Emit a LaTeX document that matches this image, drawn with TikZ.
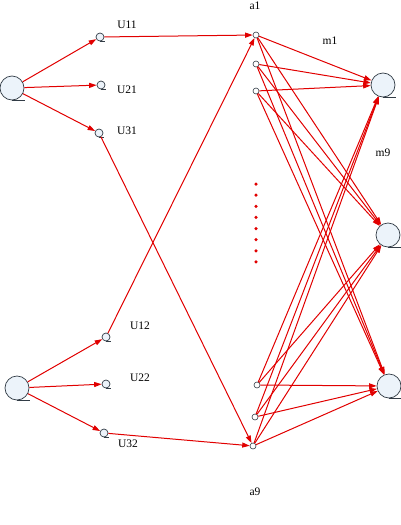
\documentclass[tikz,border=0pt]{standalone}
\usepackage{fontspec}
\setmainfont{Liberation Serif}
\usetikzlibrary{arrows.meta}
\definecolor{lnred}{RGB}{225,0,0}
\definecolor{cfill}{RGB}{236,243,250}
\definecolor{cline}{RGB}{50,60,70}
\begin{document}
\begin{tikzpicture}[x=1pt,y=-1pt,
  big/.style={circle,draw=cline,fill=cfill,line width=0.7pt,minimum size=24pt,inner sep=0pt},
  small/.style={circle,draw=cline,fill=cfill,line width=0.7pt,minimum size=8pt,inner sep=0pt},
  mid/.style={circle,draw=cline,fill=white,line width=0.6pt,minimum size=6pt,inner sep=0pt},
  lab/.style={font=\fontsize{11.5}{13}\selectfont,inner sep=0pt},
  conn/.style={draw=lnred,line width=1pt,-{Triangle[length=7.5pt,width=5pt]}},
  dotm/.style={circle,fill=lnred,minimum size=3.5pt,inner sep=0pt}]
\useasboundingbox (0,0) rectangle (400,525);
% left big circles
\node[big] (L1) at (12,88) {};
\node[big] (L2) at (17,388) {};
% U nodes
\node[small] (U11) at (100,37) {};
\node[small] (U21) at (101,85) {};
\node[small] (U31) at (99,133) {};
\node[small] (U12) at (106,337) {};
\node[small] (U22) at (106,384) {};
\node[small] (U32) at (104,433) {};
% middle nodes
\node[mid] (a1) at (256,35) {};
\node[mid] (a2) at (256,64) {};
\node[mid] (a3) at (256,91) {};
\node[mid] (b1) at (257,385) {};
\node[mid] (b2) at (255,417) {};
\node[mid] (b3) at (253,446) {};
% right big circles
\node[big] (R1) at (383,85) {};
\node[big] (R2) at (388,235) {};
\node[big] (R3) at (389,386) {};
% tails
\foreach \n in {L1,L2,R1,R2,R3}{
  \draw[cline,line width=0.7pt] (\n.south) -- ++(13,0);
}
\foreach \n in {U11,U21,U31,U12,U22,U32}{
  \draw[cline,line width=0.7pt] (\n.south) -- ++(5,0);
}
% labels
\node[lab] (tU11) at (127,25) {U11};
\node[lab] (tU21) at (127,90) {U21};
\node[lab] (tU31) at (127,131) {U31};
\node[lab] (tU12) at (140,326) {U12};
\node[lab] (tU22) at (140,378) {U22};
\node[lab] (tU32) at (128,444) {U32};
\node[lab] (ta1) at (255,6) {a1};
\node[lab] (tm1) at (330,41) {m1};
\node[lab] (tm9) at (383,153) {m9};
\node[lab] (ta9) at (255,492) {a9};
% dots
\foreach \i in {0,...,7}{
  \node[dotm] (d\i) at (256,184+11.14*\i) {};
}
% connectors
\path[conn] (L1) -- (U11);
\path[conn] (L1) -- (U21);
\path[conn] (L1) -- (U31);
\path[conn] (L2) -- (U12);
\path[conn] (L2) -- (U22);
\path[conn] (L2) -- (U32);
\path[conn] (U11) -- (a1);
\path[conn] (U12) -- (a1);
\path[conn] (U31) -- (b3);
\path[conn] (U32) -- (b3);
\foreach \m in {a1,a2,a3,b1,b2,b3}{
  \foreach \r in {R1,R2,R3}{
    \path[conn] (\m) -- (\r);
  }
}
\end{tikzpicture}
\end{document}
